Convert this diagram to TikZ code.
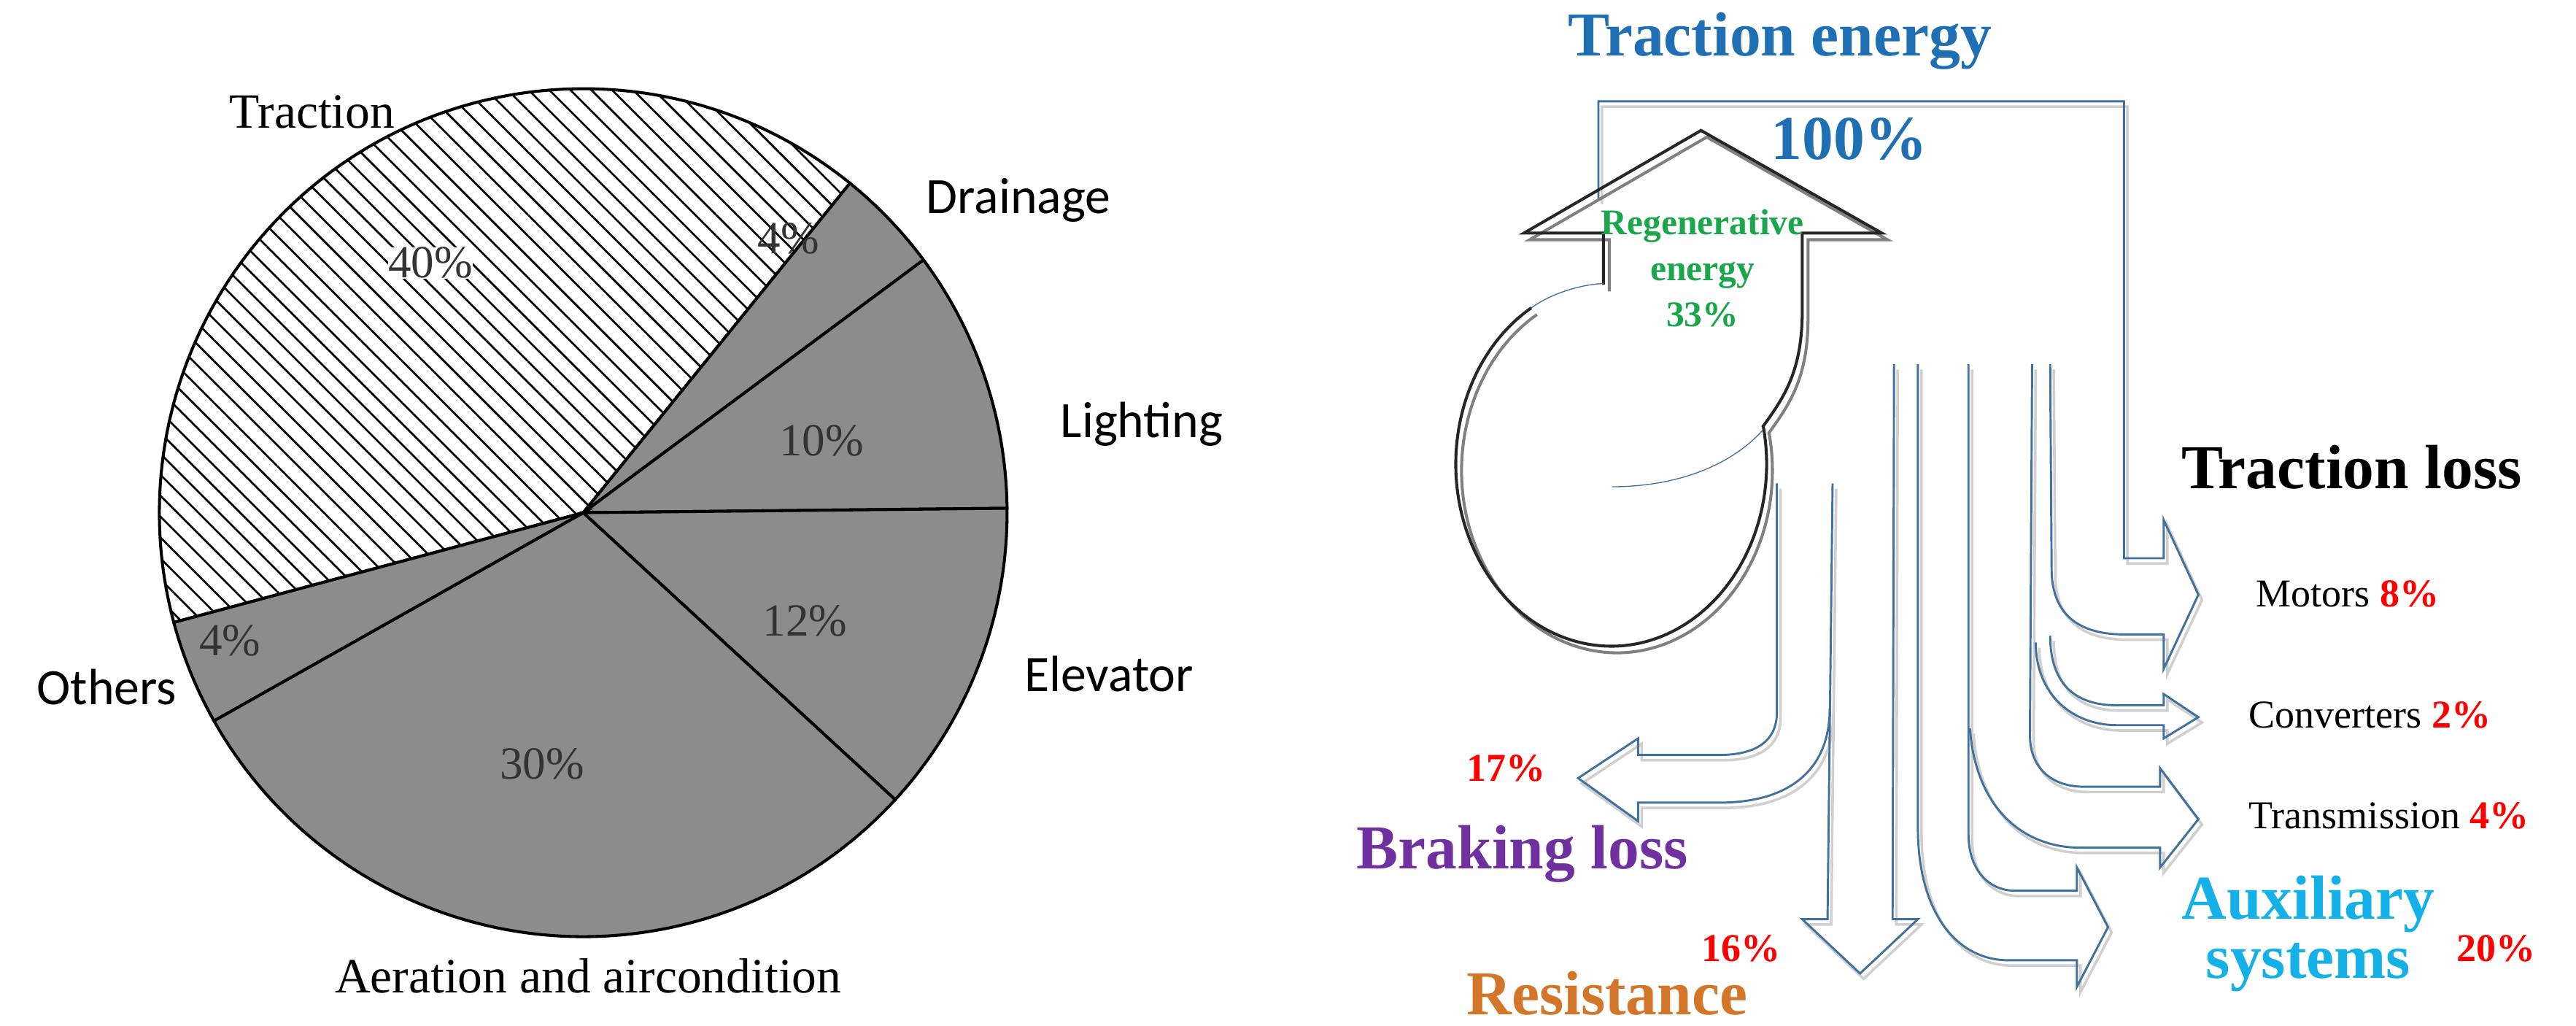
\documentclass[tikz,border=0pt]{standalone}
\usepackage{fontspec}
\setmainfont{Liberation Serif}
\newfontfamily\carl{Carlito}
\usetikzlibrary{patterns.meta}
\definecolor{sk}{HTML}{41719C}
\definecolor{shd}{HTML}{D0D0D0}
\definecolor{pg}{HTML}{8C8C8C}
\definecolor{tblue}{HTML}{1F6FB5}
\definecolor{rgreen}{HTML}{1AA64A}
\definecolor{bpurp}{HTML}{7030A0}
\definecolor{rorange}{HTML}{D4762A}
\definecolor{acyan}{HTML}{14B0E8}
\newcommand\fs[1]{\fontsize{#1}{#1}\selectfont}
\begin{document}
\begin{tikzpicture}[x=1pt,y=1pt,
  sliceline/.style={draw=black,line width=1.8pt},
  slice/.style={sliceline,fill=pg},
  flow/.style={draw=sk,line width=1.3pt},
  flowsh/.style={draw=shd,line width=1.6pt},
  regen/.style={draw=black!85,line width=1.8pt},
  pl/.style={font=\fs{30}},
  pp/.style={font=\fs{28},text=black!80},
  bt/.style={font=\bfseries\fs{38}}]
\useasboundingbox (0,0) rectangle (1568,624);
% ---- pie ----
\coordinate (c) at (355,312);
\def\R{258}
\path[sliceline,pattern={Lines[angle=-45,distance=9pt,line width=1.2pt]},pattern color=black]
  (c) -- ++(51:\R) arc[start angle=51,end angle=195,radius=\R] -- cycle;
\path[slice] (c) -- ++(36.6:\R) arc[start angle=36.6,end angle=51,radius=\R] -- cycle;
\path[slice] (c) -- ++(0.6:\R) arc[start angle=0.6,end angle=36.6,radius=\R] -- cycle;
\path[slice] (c) -- ++(-42.6:\R) arc[start angle=-42.6,end angle=0.6,radius=\R] -- cycle;
\path[slice] (c) -- ++(-150.6:\R) arc[start angle=-150.6,end angle=-42.6,radius=\R] -- cycle;
\path[slice] (c) -- ++(195:\R) arc[start angle=195,end angle=209.4,radius=\R] -- cycle;
\node[pl] (lt) at (190,556) {Traction};
\node[pl,font=\carl\fs{31}] (ld) at (620,502) {Drainage};
\node[pl,font=\carl\fs{31}] (ll) at (695,366) {Lighting};
\node[pl,font=\carl\fs{31}] (le) at (675,214) {Elevator};
\node[pl,font=\carl\fs{31}] (lo) at (65,206) {Others};
\node[pl] (la) at (358,30) {Aeration and aircondition};
\node[pp,fill=white,inner sep=0pt] (p1) at (262,464) {40\%};
\node[pp] (p2) at (480,479) {4\%};
\node[pp] (p3) at (500,356) {10\%};
\node[pp] (p4) at (490,246) {12\%};
\node[pp] (p5) at (330,159) {30\%};
\node[pp] (p6) at (140,234) {4\%};
% ---- sankey ----
\begin{scope}[shift={(866,624)},xscale=0.44,yscale=-0.403]
\def\pA{(243,300) -- (243,153) -- (970,153) -- (970,843) -- (1025,843) -- (1025,785) -- (1073,898) -- (1025,1010) -- (1025,958) -- (970,958) .. controls (900,958) and (870,920) .. (870,860) -- (868,550)}
\def\pB{(490,730) -- (490,1075) .. controls (490,1120) and (460,1140) .. (410,1140) -- (298,1140) -- (298,1115) -- (215,1175) -- (298,1240) -- (298,1212) -- (410,1212) .. controls (510,1212) and (563,1160) .. (563,1070)}
\def\pC{(567,730) -- (560,1388) -- (525,1388) -- (605,1470) -- (685,1388) -- (650,1388) -- (652,550)}
\def\pD{(685,550) -- (685,1250) .. controls (685,1380) and (740,1450) .. (810,1450) -- (905,1450) -- (905,1490) -- (948,1400) -- (905,1310) -- (905,1345) -- (820,1345) .. controls (780,1345) and (755,1310) .. (755,1260) -- (755,550)}
\def\pE{(757,1100) .. controls (765,1220) and (830,1280) .. (910,1280) -- (1020,1280) -- (1020,1310) -- (1073,1237) -- (1020,1160) -- (1020,1188) -- (915,1188) .. controls (870,1188) and (840,1160) .. (840,1110) -- (843,550)}
\def\pF{(848,970) .. controls (848,1050) and (900,1095) .. (960,1095) -- (1025,1095) -- (1025,1115) -- (1073,1083) -- (1025,1048) -- (1025,1065) -- (960,1065) .. controls (900,1065) and (868,1030) .. (868,960)}
\foreach \p in {\pA,\pB,\pC,\pD,\pE,\pF}{
  \draw[flowsh,shift={(5,8)}] \p;
  \draw[flow] \p;}
% regenerative loop
\def\pG{(250,430) -- (250,352) -- (140,352) -- (385,197) -- (635,352) -- (525,352) -- (525,470) .. controls (525,560) and (500,600) .. (470,645)}
\draw[draw=black!50,line width=1.8pt,shift={(8,10)}] \pG;
\draw[regen] \pG;
\draw[draw=black!50,line width=1.8pt,shift={(8,10)}] (150,465) arc[start angle=239,end angle=-12,x radius=215,y radius=275];
\draw[regen] (150,465) arc[start angle=239,end angle=-12,x radius=215,y radius=275];
\draw[sk,line width=0.6pt] (250,428) .. controls (215,430) and (175,445) .. (150,465);
\draw[sk,line width=0.6pt] (470,650) .. controls (420,710) and (340,735) .. (262,735);
% texts
\node[bt,text=tblue] (te) at (494,62) {Traction energy};
\node[bt,text=tblue] (h) at (590,210) {100\%};
\node[font=\bfseries\fs{22},text=rgreen,align=center] (rg) at (387,405) {Regenerative\\[6pt]energy\\[6pt]33\%};
\node[bt] (tl) at (1285,705) {Traction loss};
\node[font=\fs{24},anchor=west] (mo) at (1145,897) {Motors \textcolor{red}{\bfseries 8\%}};
\node[font=\fs{24},anchor=west] (cv) at (1135,1080) {Converters \textcolor{red}{\bfseries 2\%}};
\node[font=\fs{24},anchor=west] (tr) at (1135,1232) {Transmission \textcolor{red}{\bfseries 4\%}};
\node[font=\bfseries\fs{24},text=red] (b17) at (115,1160) {17\%};
\node[bt,text=bpurp,anchor=east] (bl) at (375,1290) {Braking loss};
\node[font=\bfseries\fs{24},text=red] (r16) at (440,1432) {16\%};
\node[bt,text=rorange] (rs) at (255,1500) {Resistance};
\node[bt,text=acyan,align=center] (ax) at (1225,1410) {Auxiliary\\[-2pt]systems};
\node[font=\bfseries\fs{24},text=red] (a20) at (1485,1432) {20\%};
\end{scope}
\end{tikzpicture}
\end{document}
